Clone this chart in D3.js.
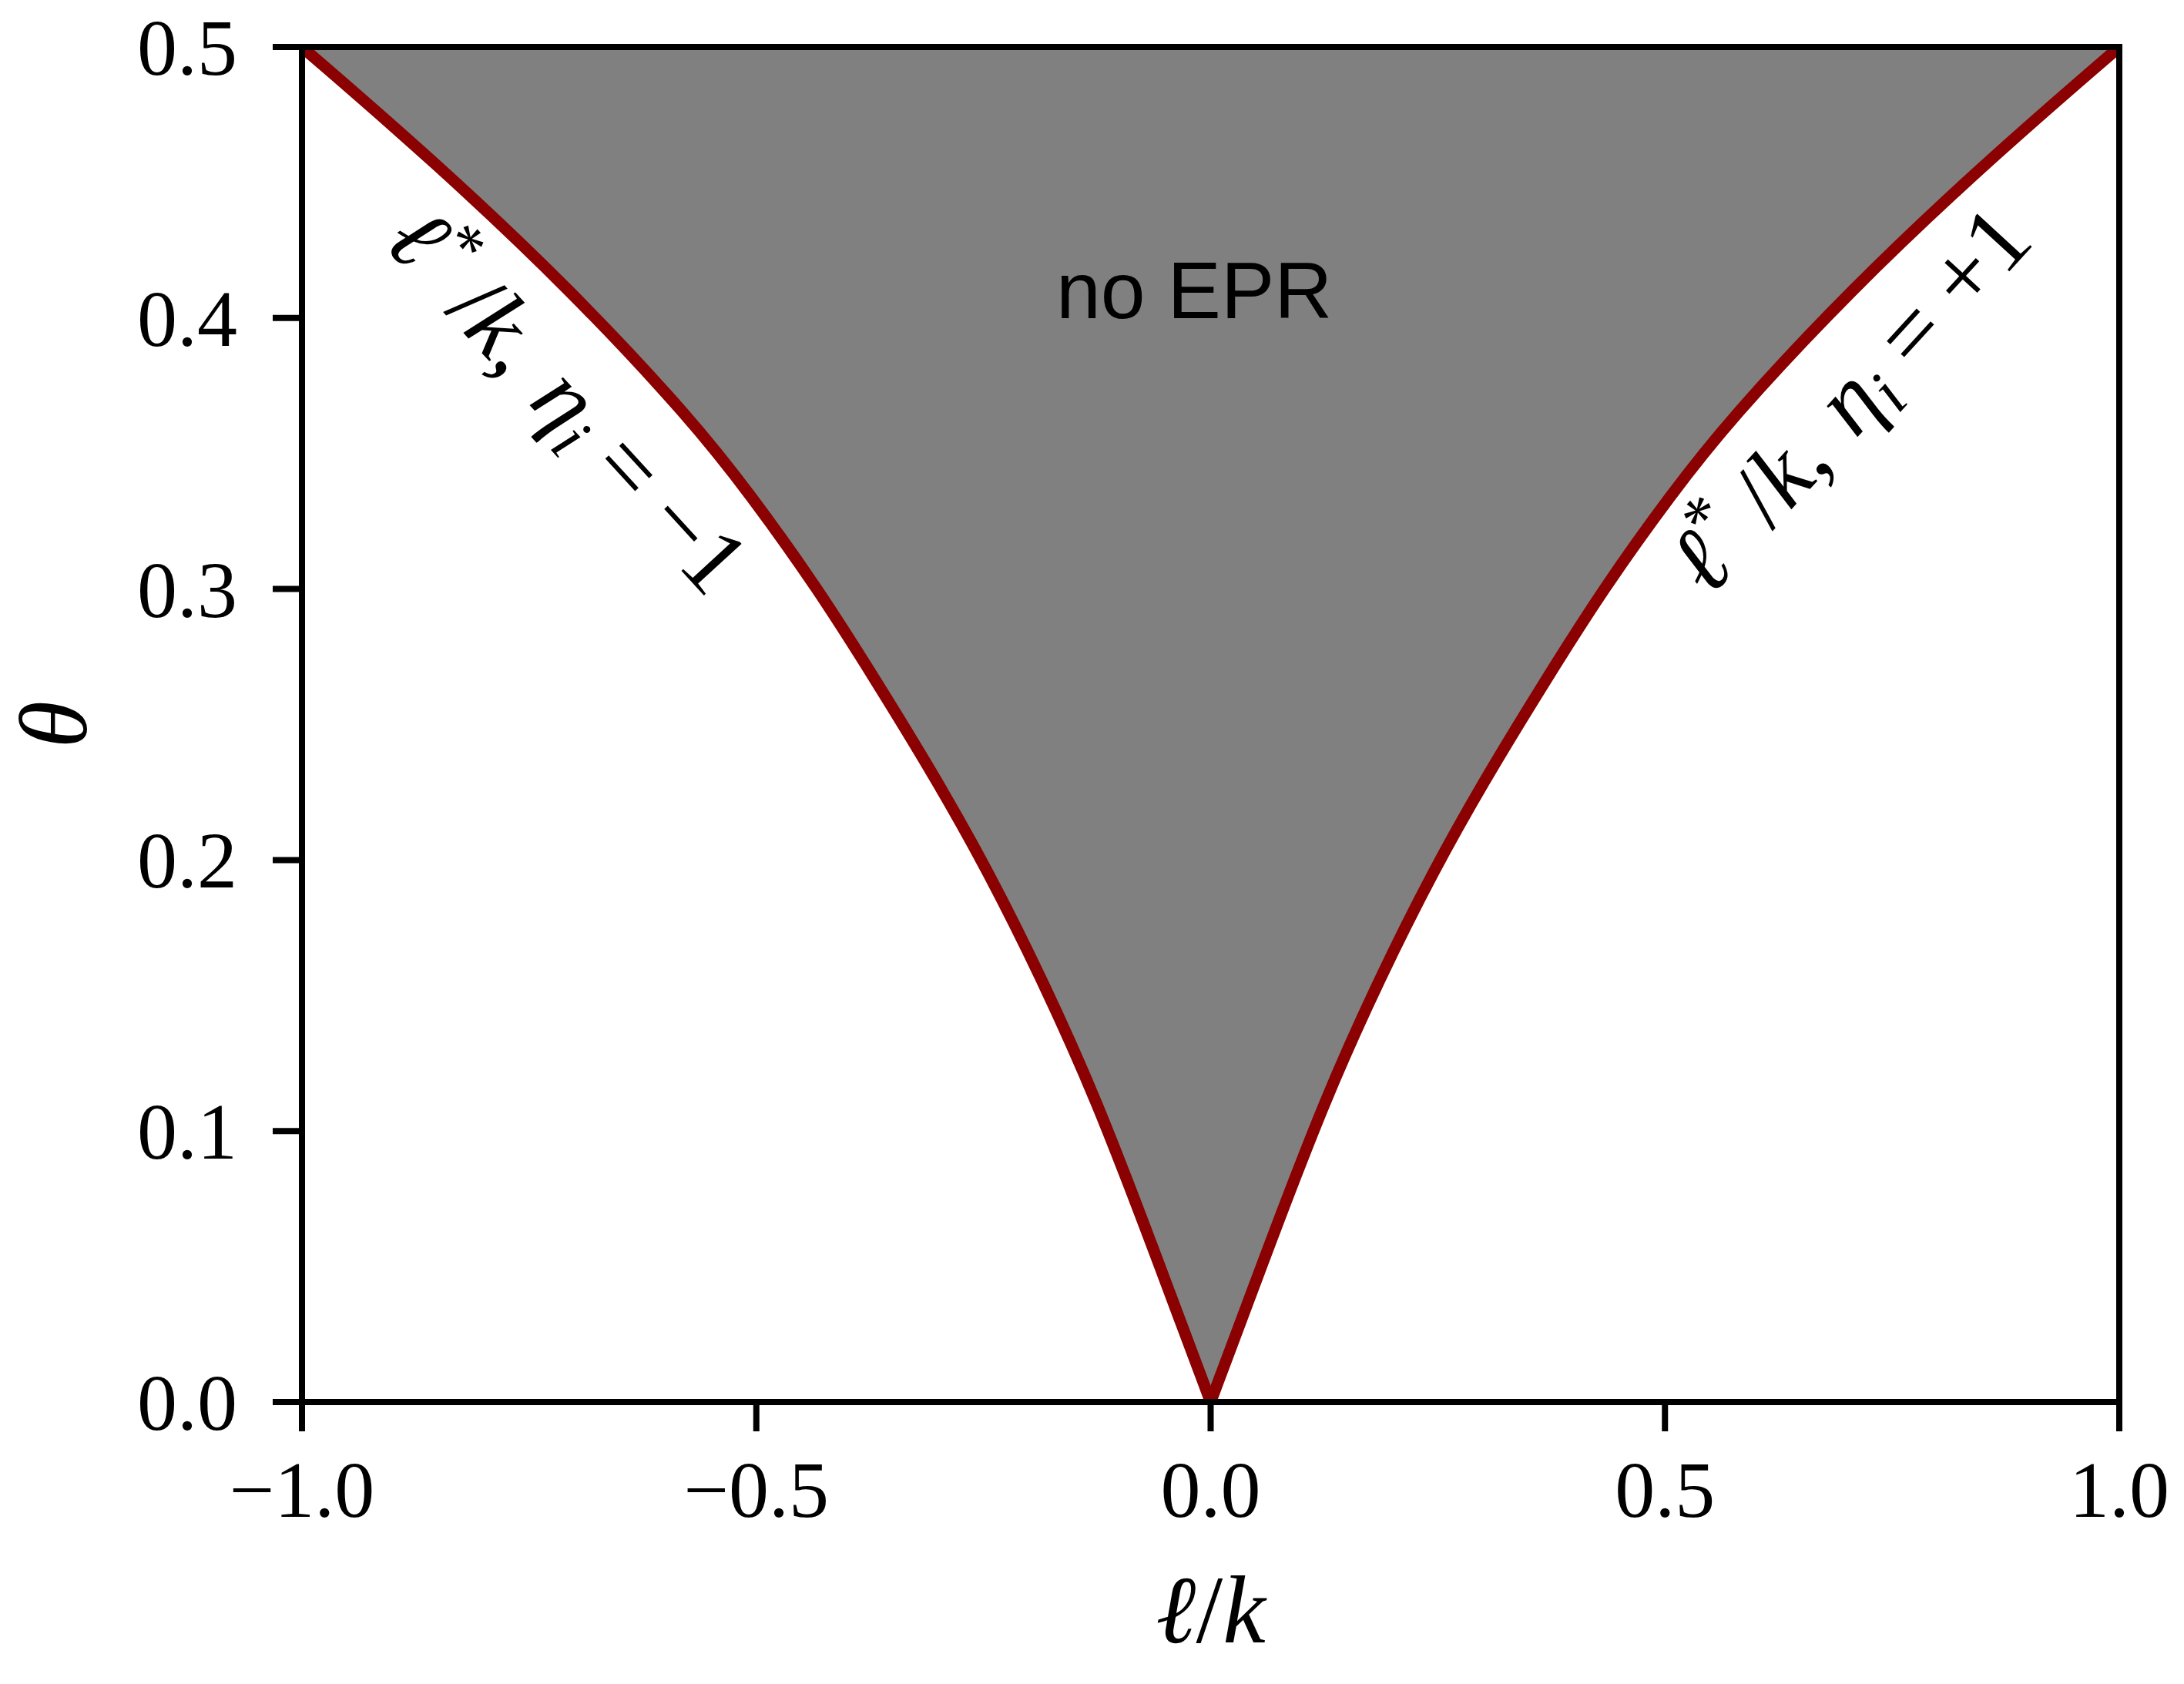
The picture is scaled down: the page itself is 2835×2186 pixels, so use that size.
<!DOCTYPE html>
<html>
<head>
<meta charset="utf-8">
<script src="https://cdn.jsdelivr.net/npm/d3@7"></script>
<style>
  html, body { margin: 0; padding: 0; background: #fff; }
  svg { display: block; }
  .tick-label { font-family: "Liberation Serif", "DejaVu Serif", serif; font-size: 104px; fill: #000; }
  .math { font-family: "Liberation Serif", "DejaVu Serif", serif; fill: #000; }
</style>
</head>
<body>
<svg id="chart" width="2835" height="2186"></svg>
<script>
// boundary curve ℓ*/k(θ) (right branch; left branch is its mirror)
const THETA = [0, 0.061, 0.111, 0.155, 0.196, 0.231, 0.266, 0.301, 0.335, 0.362, 0.41, 0.458, 0.5];
const ELL_STAR = [0, 0.068, 0.125, 0.184, 0.245, 0.304, 0.368, 0.434, 0.507, 0.57, 0.703, 0.855, 1.0];

const X_TICKS = [-1.0, -0.5, 0.0, 0.5, 1.0];
const Y_TICKS = [0.0, 0.1, 0.2, 0.3, 0.4, 0.5];

const REGION_LABEL = { text: "no EPR", ell: -0.17, theta: 0.4 };
const BRANCH_LABELS = [
  { sign: "\u2212", ell: -0.709, theta: 0.369, angle: 47.5 },
  { sign: "+", ell: 0.705, theta: 0.3695, angle: -47.5 },
];

const width = 2835;
const height = 2186;
const plot = { left: 392, right: 2751, top: 61, bottom: 1820 };

const x = d3.scaleLinear().domain([-1, 1]).range([plot.left, plot.right]);
const y = d3.scaleLinear().domain([0, 0.5]).range([plot.bottom, plot.top]);

const svg = d3.select("#chart");
svg.append("rect").attr("width", width).attr("height", height).attr("fill", "#fff");

svg.append("defs")
  .append("clipPath")
  .attr("id", "plot-clip")
  .append("rect")
  .attr("x", plot.left)
  .attr("y", plot.top)
  .attr("width", plot.right - plot.left)
  .attr("height", plot.bottom - plot.top);

const points = THETA.map((theta, i) => ({ theta, ell: ELL_STAR[i] }));

const inner = svg.append("g").attr("clip-path", "url(#plot-clip)");

// shaded "no EPR" region between the two branches
const area = d3.area()
  .y((d) => y(d.theta))
  .x0((d) => x(-d.ell))
  .x1((d) => x(d.ell))
  .curve(d3.curveBasis);

inner.append("path")
  .datum(points)
  .attr("d", area)
  .attr("fill", "#808080");

const line = d3.line()
  .x((d) => x(d.ell))
  .y((d) => y(d.theta))
  .curve(d3.curveBasis);

[1, -1].forEach((s) => {
  inner.append("path")
    .datum(points.map((p) => ({ theta: p.theta, ell: s * p.ell })))
    .attr("d", line)
    .attr("fill", "none")
    .attr("stroke", "#8b0000")
    .attr("stroke-width", 15)
    .attr("stroke-linejoin", "round");
});

// text inside the shaded region
svg.append("text")
  .attr("x", x(REGION_LABEL.ell))
  .attr("y", y(REGION_LABEL.theta))
  .attr("font-family", "'Liberation Sans', Arial, sans-serif")
  .attr("font-size", 104)
  .attr("fill", "#000")
  .text(REGION_LABEL.text);

// rotated branch labels: ℓ*/k, η_i = ±1
BRANCH_LABELS.forEach((lab) => {
  const t = svg.append("text")
    .attr("class", "math")
    .attr("font-size", 123)
    .attr("text-anchor", "middle")
    .attr("transform", `translate(${x(lab.ell)},${y(lab.theta)}) rotate(${lab.angle})`)
    .attr("y", 38);
  t.append("tspan").attr("font-style", "italic").text("\u2113");
  t.append("tspan").attr("font-size", 86).attr("dy", -48).text("*");
  t.append("tspan").attr("dy", 48).text("\u2009/");
  t.append("tspan").attr("font-style", "italic").text("k");
  t.append("tspan").text(",\u2004");
  t.append("tspan").attr("font-style", "italic").text("\u03b7");
  t.append("tspan").attr("font-style", "italic").attr("font-size", 86).attr("dy", 19).text("i");
  t.append("tspan").attr("dy", -19).text("\u2005=\u2005" + lab.sign + "1");
});

// axes frame and ticks
const frame = svg.append("g").attr("stroke", "#000").attr("stroke-width", 8).attr("fill", "none");
frame.append("rect")
  .attr("x", plot.left)
  .attr("y", plot.top)
  .attr("width", plot.right - plot.left)
  .attr("height", plot.bottom - plot.top)
  .attr("stroke-linejoin", "miter");

const fmt = (v) => d3.format(".1f")(v).replace("-", "\u2212");

X_TICKS.forEach((v) => {
  frame.append("line")
    .attr("x1", x(v)).attr("x2", x(v))
    .attr("y1", plot.bottom).attr("y2", plot.bottom + 38);
  svg.append("text")
    .attr("class", "tick-label")
    .attr("x", x(v))
    .attr("y", plot.bottom + 149)
    .attr("text-anchor", "middle")
    .text(fmt(v));
});

Y_TICKS.forEach((v) => {
  frame.append("line")
    .attr("x1", plot.left - 38).attr("x2", plot.left)
    .attr("y1", y(v)).attr("y2", y(v));
  svg.append("text")
    .attr("class", "tick-label")
    .attr("x", plot.left - 84)
    .attr("y", y(v) + 36)
    .attr("text-anchor", "end")
    .text(fmt(v));
});

// axis titles
const xTitle = svg.append("text")
  .attr("class", "math")
  .attr("font-size", 125)
  .attr("x", (plot.left + plot.right) / 2)
  .attr("y", 2132)
  .attr("text-anchor", "middle");
xTitle.append("tspan").attr("font-style", "italic").text("\u2113");
xTitle.append("tspan").text("/");
xTitle.append("tspan").attr("font-style", "italic").text("k");

svg.append("text")
  .attr("class", "math")
  .attr("font-size", 125)
  .attr("font-style", "italic")
  .attr("text-anchor", "middle")
  .attr("transform", `translate(112,${(plot.top + plot.bottom) / 2}) rotate(-90)`)
  .text("\u03b8");
</script>
</body>
</html>
